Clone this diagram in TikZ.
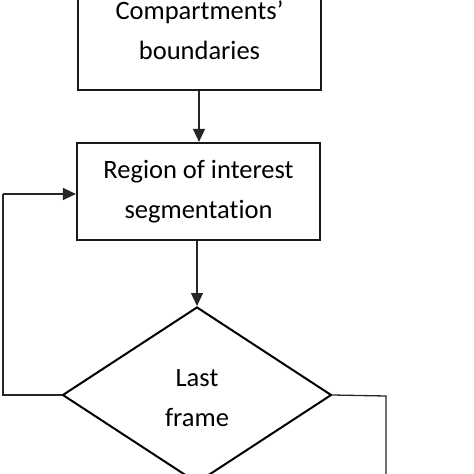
\documentclass[tikz,border=0pt]{standalone}
\usepackage{fontspec}
\setmainfont[Ligatures=NoCommon]{Carlito}
\usetikzlibrary{shapes.geometric,arrows.meta}
\begin{document}
\begin{tikzpicture}[x=1pt,y=-1pt,
  txt/.style={font=\fontsize{26.5}{40}\selectfont,text=black},
  boxstyle/.style={txt,draw=black!90,line width=2.2pt,minimum width=243pt,minimum height=97pt,align=center,inner sep=0pt},
  decstyle/.style={draw=black,line width=2pt,diamond,minimum width=269pt,minimum height=176pt,inner sep=0pt,aspect=1.53},
  conn/.style={draw=black!85,line width=1.3pt},
  arr/.style={conn,-{Triangle[length=13pt,width=12pt]}}]
\useasboundingbox (0,0) rectangle (474,474);
\clip (0,0) rectangle (474,474);
\fill[white] (0,0) rectangle (474,474);
\node[boxstyle,minimum height=120pt] (box1) at (199.5,30) {Compartments’\\boundaries};
\node[boxstyle] (box2) at (198.5,191.5) {Region of interest\\segmentation};
\node[decstyle] (dec) at (197,395) {};
\node[txt,align=center] (dectext) at (197,398) {Last\\frame};
\coordinate (l1) at (3,395);
\coordinate (l2) at (3,194);
\coordinate (r1) at (386,396);
\coordinate (r2) at (386,480);
\draw[arr] (box1.south -| 199,0) -- (box2.north -| 199,0);
\draw[arr] (box2.south -| 197,0) -- (dec.north);
\draw[conn] (dec.west) -- (l1) -- (l2);
\draw[arr] (l2) -- (box2.west |- l2);
\draw[conn] (dec.east) -- (r1) -- (r2);
\end{tikzpicture}
\end{document}
